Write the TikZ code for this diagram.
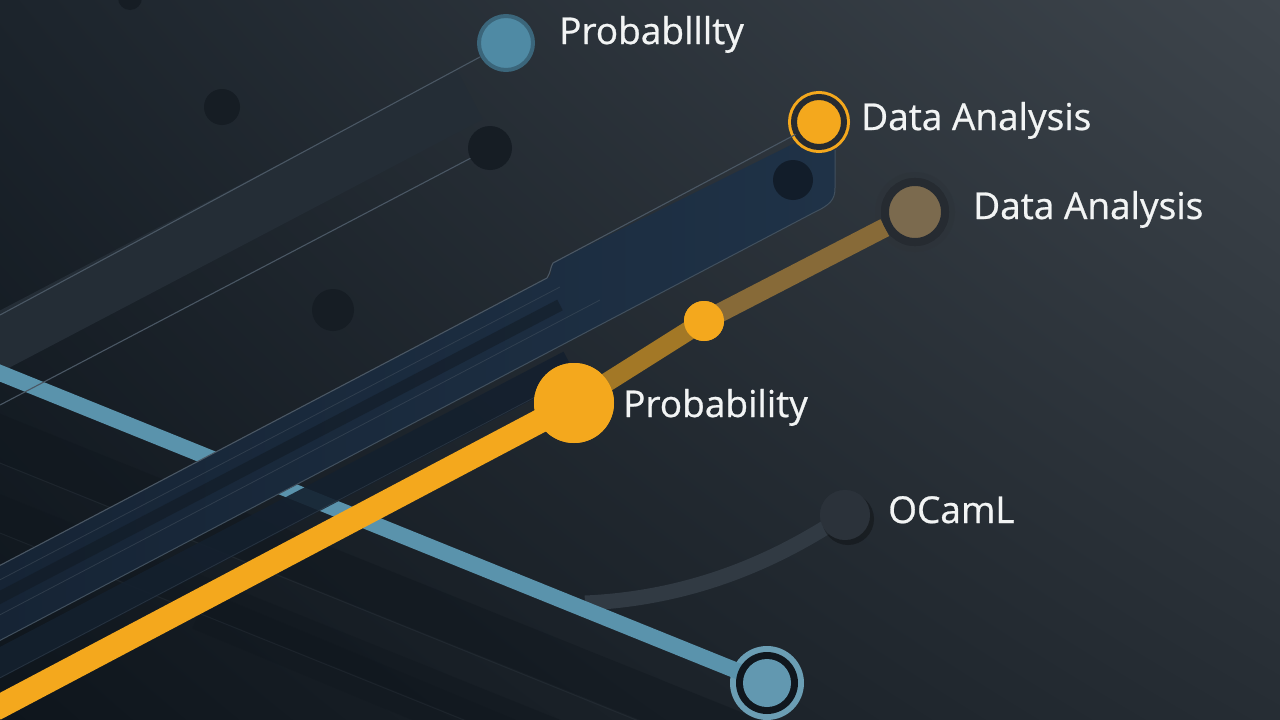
\documentclass[tikz,border=0pt]{standalone}
\usepackage{fontspec}
\usetikzlibrary{shadings}
\setmainfont{Open Sans}
\newfontfamily\lblfont{Open Sans}[FakeBold=0.7]
\definecolor{bgTL}{HTML}{1C242C}
\definecolor{bgTR}{HTML}{3E454C}
\definecolor{bgBL}{HTML}{0E151C}
\definecolor{bgBR}{HTML}{262D34}
\definecolor{amber}{HTML}{F4A81D}
\definecolor{amberMid}{HTML}{A37826}
\definecolor{amberDim}{HTML}{876A38}
\definecolor{steel}{HTML}{5A93AC}
\definecolor{steelRing}{HTML}{3B667B}
\definecolor{steelFill}{HTML}{4F8AA4}
\definecolor{navy}{HTML}{1F3247}
\definecolor{navyL}{HTML}{162435}
\definecolor{hair}{HTML}{4A5764}
\definecolor{ink}{HTML}{10171E}
\definecolor{bandA}{HTML}{242D36}
\definecolor{hole}{HTML}{161D24}
\definecolor{ringdark}{HTML}{262B31}
\definecolor{fadefill}{HTML}{7B6A4E}
\definecolor{ocfill}{HTML}{2B323A}
\definecolor{ocband}{HTML}{313A43}
\definecolor{txt}{HTML}{F2F4F4}
\begin{document}
\begin{tikzpicture}[x=1pt,y=-1pt,
  label/.style={anchor=base west, inner sep=0pt, text=txt, font=\lblfont\fontsize{37}{40}\selectfont},
  holedot/.style={circle, fill=hole, inner sep=0pt, minimum size=#1},
  hairline/.style={draw=hair, line width=1.1pt},
  darkband/.style={draw=ink, opacity=#1, line cap=butt},
]
\useasboundingbox (0,0) rectangle (1280,720);
\shade[upper left=bgTL, upper right=bgTR, lower left=bgBL, lower right=bgBR] (0,0) rectangle (1280,720);
\clip (0,0) rectangle (1280,720);

% ---- lower dark bands (parallel to the steel line)
\draw[darkband=0.45, line width=45pt] (-20,430) -- (780,752);
\draw[darkband=0.40, line width=35pt] (-20,505) -- (700,795);
\draw[darkband=0.35, line width=40pt] (200,610) -- (560,760);
\draw[draw=ocband, opacity=0.35, line width=1pt] (-20,455) -- (760,770);
\draw[draw=ocband, opacity=0.30, line width=1pt] (-20,525) -- (650,795);

% ---- upper bands and hairlines
\draw[draw=bandA, line width=55pt] (-20,352) -- (470,95);
\node[holedot=36pt] (d1) at (222,107) {};
\node[holedot=44pt] (d2) at (490,148) {};
\node[holedot=42pt] (d3) at (333,310) {};
\node[holedot=24pt] (d0) at (130,-2) {};

% ---- OCaml node and its arc (behind the steel line)
\node[circle, fill=ocfill, inner sep=0pt, minimum size=50pt] (oc) at (845,515) {};
\coordinate (ocS) at (585,603);
\draw[ocband, line width=15pt] (ocS) .. controls (700,598) and (785,555) .. (oc.center);

% steel line (goes under the navy bands)
\coordinate (sL) at (-5,371);
\node[circle, fill=steel!90!white, inner sep=0pt, minimum size=74pt] (pbot) at (767,683) {};
\draw[steel, line width=16pt] (sL) -- (pbot.center);

% navy band from the Data Analysis node
\shade[left color=navyL, right color=navy]
  (805,138) -- (553,263) -- (550,277) -- (-5,568) -- (-5,643) -- (813,213)
  .. controls (830,205) and (835,200) .. (835,188) -- (835,150) -- cycle;
\draw[draw=ink, opacity=0.45, line width=12pt] (-5,600) -- (560,305);
\node[circle, fill=navyL!80!black, inner sep=0pt, minimum size=40pt] (d4) at (793,180) {};
\draw[draw=hair!80!navy, line width=1pt] (-5,643) -- (813,213)
  .. controls (830,205) and (835,200) .. (835,188) -- (835,150);
% dark navy band between navy band and amber line
\draw[draw=navyL!70!ink, opacity=0.9, line width=28pt] (-10,668) -- (570,364);
\draw[draw=hair, opacity=0.45, line width=0.8pt] (-10,585) -- (560,287);
\draw[draw=hair, opacity=0.45, line width=0.8pt] (-10,620) -- (600,300);
\draw[draw=hair, opacity=0.35, line width=0.8pt] (-10,683) -- (560,384);

% ---- nodes
\node[circle, fill=steelFill, draw=steelRing, line width=4pt, inner sep=0pt, minimum size=54pt] (ptop) at (506,43) {};
\node[circle, fill=amber, draw=amber, double=ringdark, double distance=6pt, line width=3pt, inner sep=0pt, minimum size=50pt] (da1) at (819,122) {};
\fill[ringdark!70!bgTR, opacity=0.6] (915,212) circle (40);
\node[circle, fill=fadefill, draw=ringdark, line width=8pt, inner sep=0pt, minimum size=60pt] (da2) at (915,212) {};
\node[circle, fill=amber, inner sep=0pt, minimum size=80pt] (pmid) at (574,403) {};
\node[circle, fill=amber, inner sep=0pt, minimum size=40pt] (psml) at (704,321) {};
\coordinate (oL) at (-5,709);
\coordinate (h1) at (0,315);
\coordinate (h2) at (0,405);

% hairlines into nodes
\draw[hairline] (ptop) -- (h1);
\draw[hairline] (d2) -- (h2);
\draw[hairline] (da1) -- (553,263) .. controls (550,268) and (551,272) .. (547,278) -- (-5,568);

% amber path
\draw[amberDim, line width=19pt] (psml.center) -- (da2);
\draw[amberMid, line width=19pt] (pmid.center) -- (psml.center);
\draw[amber, line width=24pt] (oL) -- (pmid.center);
% node discs over the lines
\node[circle, fill=fadefill, draw=ringdark, line width=8pt, inner sep=0pt, minimum size=60pt] at (da2.center) {};
\node[circle, fill=amber, inner sep=0pt, minimum size=40pt] at (psml.center) {};
\node[circle, fill=amber, inner sep=0pt, minimum size=80pt] at (pmid.center) {};

% bottom steel node rings
\fill[ink] (pbot.center) circle (31);
\fill[steel!95!white] (pbot.center) circle (24);

% OCaml node shadow and disc
\fill[black, opacity=0.3] (848,519) circle (26);
\node[circle, fill=ocfill, inner sep=0pt, minimum size=50pt] at (oc.center) {};

% ---- labels
\node[label] (t1) at (559,44) {Probablllty};
\node[label] (t2) at (861,130) {Data Analysis};
\node[label] (t3) at (973,219) {Data Analysis};
\node[label] (t4) at (623,417) {Probability};
\node[label] (t5) at (888,523) {OCamL};
\end{tikzpicture}
\end{document}
